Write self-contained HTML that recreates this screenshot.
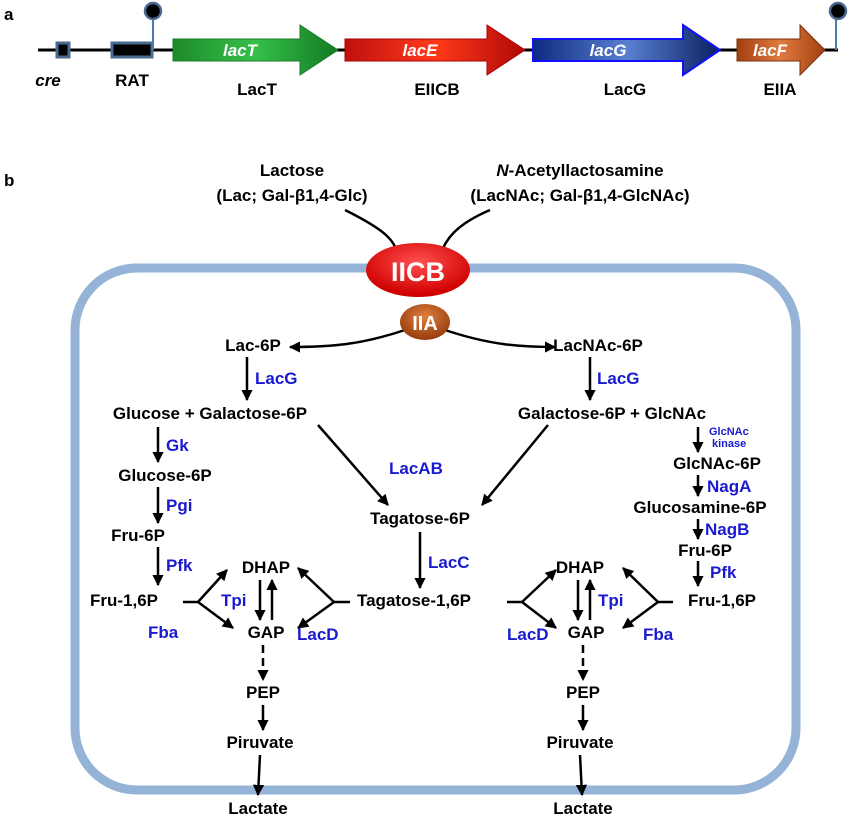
<!DOCTYPE html>
<html><head><meta charset="utf-8"><style>
html,body{margin:0;padding:0;background:#fff}
svg{display:block}
text{font-family:"Liberation Sans",Arial,sans-serif;font-weight:bold}
.k{fill:#000;font-size:17px}
.b{fill:#1a1ad0;font-size:17px}
</style></head><body>
<svg width="850" height="816" viewBox="0 0 850 816" xmlns="http://www.w3.org/2000/svg">
<defs>
<marker id="ah" viewBox="0 0 10 10" refX="9" refY="5" markerWidth="4.5" markerHeight="4.5" orient="auto-start-reverse"><path d="M0,0 L10,5 L0,10 z" fill="#000"/></marker>
<linearGradient id="gT" x1="0" x2="1"><stop offset="0" stop-color="#1e8a2a"/><stop offset=".5" stop-color="#35c04a"/><stop offset="1" stop-color="#137a22"/></linearGradient>
<linearGradient id="gE" x1="0" x2="1"><stop offset="0" stop-color="#c01010"/><stop offset=".5" stop-color="#ff3a1a"/><stop offset="1" stop-color="#b00808"/></linearGradient>
<linearGradient id="gG" x1="0" x2="1"><stop offset="0" stop-color="#0c2a80"/><stop offset=".5" stop-color="#5a80d0"/><stop offset="1" stop-color="#0a2060"/></linearGradient>
<linearGradient id="gF" x1="0" x2="1"><stop offset="0" stop-color="#a04010"/><stop offset=".5" stop-color="#e07a40"/><stop offset="1" stop-color="#a04010"/></linearGradient>
<radialGradient id="gR" cx=".5" cy=".35" r=".6"><stop offset="0" stop-color="#ff5050"/><stop offset="1" stop-color="#d00000"/></radialGradient>
<radialGradient id="gB" cx=".5" cy=".35" r=".6"><stop offset="0" stop-color="#e08040"/><stop offset="1" stop-color="#9a4010"/></radialGradient>
</defs>
<!-- panel a -->
<text x="4" y="20" class="k" font-size="17">a</text>
<line x1="38" y1="50" x2="838" y2="50" stroke="#000" stroke-width="3"/>
<rect x="57" y="43" width="12" height="14" fill="#000" stroke="#4a6a90" stroke-width="3"/>
<rect x="112" y="43" width="40" height="14" fill="#000" stroke="#4a6a90" stroke-width="3"/>
<line x1="153" y1="50" x2="153" y2="18" stroke="#4a7ab0" stroke-width="2"/>
<circle cx="153" cy="11" r="8" fill="#000" stroke="#4a6a90" stroke-width="2.5"/>
<line x1="836" y1="50" x2="836" y2="18" stroke="#4a7ab0" stroke-width="2"/>
<circle cx="838" cy="11" r="8" fill="#000" stroke="#4a6a90" stroke-width="2.5"/>
<path d="M173,39 H300 V25 L338,50 L300,75 V61 H173 Z" fill="url(#gT)" stroke="#1e7a2a"/>
<path d="M345,39 H487 V25 L525,50 L487,75 V61 H345 Z" fill="url(#gE)" stroke="#a00"/>
<path d="M533,39 H683 V25 L720,50 L683,75 V61 H533 Z" fill="url(#gG)" stroke="#1010ff" stroke-width="2"/>
<path d="M737,39 H800 V25 L825,50 L800,75 V61 H737 Z" fill="url(#gF)" stroke="#7a3010"/>
<g fill="#fff" font-size="17" font-style="italic" text-anchor="middle">
<text x="240" y="56">lacT</text><text x="420" y="56">lacE</text><text x="608" y="56">lacG</text><text x="770" y="56">lacF</text></g>
<g class="k" font-size="18" text-anchor="middle">
<text x="48" y="86" font-style="italic">cre</text><text x="132" y="86">RAT</text>
<text x="257" y="95">LacT</text><text x="437" y="95">EIICB</text><text x="625" y="95">LacG</text><text x="780" y="95">EIIA</text></g>
<!-- panel b -->
<text x="4" y="186" class="k" font-size="17">b</text>
<rect x="75" y="268" width="721" height="522" rx="62" fill="none" stroke="#95b3d7" stroke-width="9"/>
<g class="k" text-anchor="middle" font-size="18">
<text x="292" y="176">Lactose</text><text x="292" y="201">(Lac; Gal-β1,4-Glc)</text>
<text x="580" y="176"><tspan font-style="italic">N</tspan>-Acetyllactosamine</text><text x="580" y="201">(LacNAc; Gal-β1,4-GlcNAc)</text></g>
<path d="M345,210 C385,230 395,240 398,256" fill="none" stroke="#000" stroke-width="2.5"/>
<path d="M490,210 C455,225 445,240 440,256" fill="none" stroke="#000" stroke-width="2.5"/>
<path d="M405,330 C360,345 330,347 290,347" fill="none" stroke="#000" stroke-width="2.5" marker-end="url(#ah)"/>
<path d="M445,330 C490,345 520,347 555,347" fill="none" stroke="#000" stroke-width="2.5" marker-end="url(#ah)"/>
<ellipse cx="418" cy="270" rx="52" ry="27" fill="url(#gR)"/>
<text x="418" y="281" fill="#fff" font-size="27" text-anchor="middle">IICB</text>
<ellipse cx="425" cy="322" rx="25" ry="18" fill="url(#gB)"/>
<text x="425" y="330" fill="#fff" font-size="20" text-anchor="middle">IIA</text>
<g class="k" text-anchor="middle">
<text x="253" y="351">Lac-6P</text>
<text x="210" y="419">Glucose + Galactose-6P</text>
<text x="165" y="481">Glucose-6P</text>
<text x="138" y="541">Fru-6P</text>
<text x="124" y="606">Fru-1,6P</text>
<text x="266" y="573">DHAP</text>
<text x="266" y="638">GAP</text>
<text x="263" y="698">PEP</text>
<text x="260" y="748">Piruvate</text>
<text x="258" y="814">Lactate</text>
<text x="420" y="524">Tagatose-6P</text>
<text x="414" y="606">Tagatose-1,6P</text>
<text x="598" y="351">LacNAc-6P</text>
<text x="612" y="419">Galactose-6P + GlcNAc</text>
<text x="717" y="469">GlcNAc-6P</text>
<text x="700" y="513">Glucosamine-6P</text>
<text x="705" y="556">Fru-6P</text>
<text x="722" y="606">Fru-1,6P</text>
<text x="580" y="573">DHAP</text>
<text x="586" y="638">GAP</text>
<text x="583" y="698">PEP</text>
<text x="580" y="748">Piruvate</text>
<text x="583" y="814">Lactate</text>
</g>
<g class="b">
<text x="255" y="384">LacG</text>
<text x="166" y="451">Gk</text>
<text x="166" y="511">Pgi</text>
<text x="166" y="571">Pfk</text>
<text x="221" y="606">Tpi</text>
<text x="148" y="638">Fba</text>
<text x="297" y="640">LacD</text>
<text x="389" y="474">LacAB</text>
<text x="428" y="568">LacC</text>
<text x="597" y="384">LacG</text>
<text x="707" y="492">NagA</text>
<text x="705" y="535">NagB</text>
<text x="710" y="578">Pfk</text>
<text x="598" y="606">Tpi</text>
<text x="643" y="640">Fba</text>
<text x="507" y="640">LacD</text>
<text x="709" y="435" font-size="11">GlcNAc</text>
<text x="712" y="447" font-size="11">kinase</text>
</g>
<g stroke="#000" stroke-width="2.5" fill="none" marker-end="url(#ah)">
<line x1="247" y1="357" x2="247" y2="400"/>
<line x1="158" y1="427" x2="158" y2="462"/>
<line x1="158" y1="487" x2="158" y2="523"/>
<line x1="158" y1="547" x2="158" y2="585"/>
<line x1="318" y1="425" x2="388" y2="505"/>
<line x1="548" y1="425" x2="482" y2="505"/>
<line x1="420" y1="532" x2="420" y2="588"/>
<line x1="590" y1="357" x2="590" y2="400"/>
<line x1="698" y1="427" x2="698" y2="452"/>
<line x1="698" y1="475" x2="698" y2="496"/>
<line x1="698" y1="519" x2="698" y2="539"/>
<line x1="698" y1="561" x2="698" y2="586"/>
<line x1="260" y1="580" x2="260" y2="620"/>
<line x1="272" y1="620" x2="272" y2="580"/>
<line x1="578" y1="580" x2="578" y2="620"/>
<line x1="590" y1="620" x2="590" y2="580"/>
<line x1="263" y1="645" x2="263" y2="680" stroke-dasharray="8,5"/>
<line x1="583" y1="645" x2="583" y2="680" stroke-dasharray="8,5"/>
<line x1="263" y1="705" x2="263" y2="730"/>
<line x1="583" y1="705" x2="583" y2="730"/>
<line x1="260" y1="755" x2="258" y2="795"/>
<line x1="580" y1="755" x2="582" y2="795"/>
<path d="M198,602 L227,570" /><path d="M198,602 L233,628"/>
<path d="M334,602 L298,568" /><path d="M334,602 L298,628"/>
<path d="M522,602 L556,570" /><path d="M522,602 L556,628"/>
<path d="M658,602 L623,568" /><path d="M658,602 L623,628"/>
</g>
<g stroke="#000" stroke-width="2.5">
<line x1="183" y1="602" x2="198" y2="602"/><line x1="334" y1="602" x2="350" y2="602"/>
<line x1="507" y1="602" x2="522" y2="602"/><line x1="658" y1="602" x2="673" y2="602"/>
</g>
</svg>
</body></html>
